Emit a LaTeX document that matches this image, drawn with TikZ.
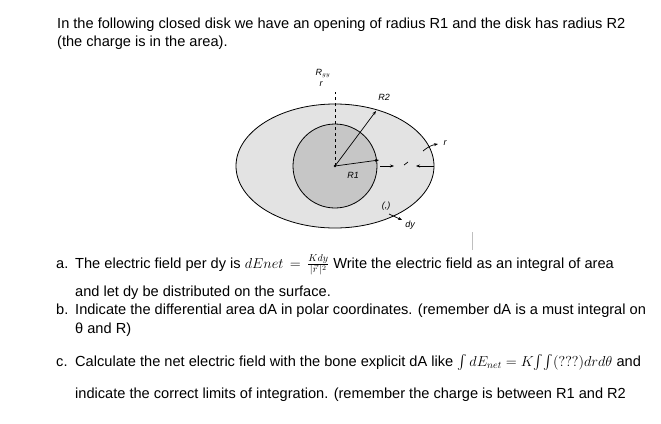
\documentclass[tikz,border=0pt]{standalone}
\usepackage{fontspec}
\setmainfont{Liberation Sans}
\usepackage{amsmath}
\usetikzlibrary{arrows.meta}
\begin{document}
\begin{tikzpicture}[x=1pt,y=-1pt,
  txt/.style={anchor=base west,inner sep=0,font=\fontsize{14.6}{16}\selectfont},
  hand/.style={inner sep=0,font=\fontsize{9}{10}\selectfont\itshape},
  arr/.style={-{Stealth[length=4pt]},line width=0.7pt}]
\useasboundingbox (0,0) rectangle (661,423);
\node[txt] (t1) at (57,28) {In the following closed disk we have an opening of radius R1 and the disk has radius R2};
\node[txt] (t2) at (57,46) {(the charge is in the area).};
\fill[gray!22,draw=black,line width=0.8pt] (335,166) ellipse [x radius=99,y radius=62];
\fill[gray!45,draw=black,line width=0.8pt] (335,166) circle [radius=42];
\coordinate (c) at (335,166);
\fill (c) circle (1.3);
\coordinate (top) at (335,92);
\draw[dashed,line width=0.7pt] (c) -- (top);
\node[hand] (rq) at (323,73) {R$_{gy}$};
\node[hand] (rr) at (321,84) {r};
\coordinate (r2e) at (376,111);
\draw[arr] (c) -- (r2e);
\node[hand] (r2) at (384,97) {R2};
\coordinate (r1e) at (379,160);
\draw[arr] (c) -- (r1e);
\node[hand] (r1) at (353,175) {R1};
\coordinate (a1) at (380,166); \coordinate (a2) at (394,166);
\draw[arr] (a1) -- (a2);
\coordinate (m1) at (404,165); \coordinate (m2) at (408,162);
\draw[line width=0.7pt] (m1) -- (m2);
\coordinate (b1) at (434,166); \coordinate (b2) at (416,166);
\draw[arr] (b1) -- (b2);
\coordinate (s1) at (423,151); \coordinate (s2) at (438,144);
\draw[arr] (s1) to[bend left=15] (s2);
\node[hand] (rl) at (445,143) {r};
\node[hand] (dq) at (386,206) {(,)};
\coordinate (d1) at (389,214); \coordinate (d2) at (402,220);
\draw[arr] (d1) -- (d2);
\node[hand] (dy) at (410,225) {dy};
\coordinate (g1) at (472,232); \coordinate (g2) at (472,250);
\draw[gray!50,line width=0.8pt] (g1) -- (g2);
\node[txt] (la) at (56,268) {a.};
\node[txt] (ta) at (75,268) {The electric field per dy is $dEnet\,=\,\frac{Kdy}{|\vec r\,|^2}$ Write the electric field as an integral of area};
\node[txt] (ta2) at (75,296) {and let dy be distributed on the surface.};
\node[txt] (lb) at (56,314) {b.};
\node[txt] (tb) at (75,314) {Indicate the differential area dA in polar coordinates. (remember dA is a must integral on};
\node[txt] (tb2) at (75,333) {θ and R)};
\node[txt] (lc) at (56,366) {c.};
\node[txt] (tc) at (75,366) {Calculate the net electric field with the bone explicit dA like $\int dE_{net} = K\!\int\!\int(???)drd\theta$ and};
\node[txt] (tc2) at (75,398) {indicate the correct limits of integration. (remember the charge is between R1 and R2};
\end{tikzpicture}
\end{document}
